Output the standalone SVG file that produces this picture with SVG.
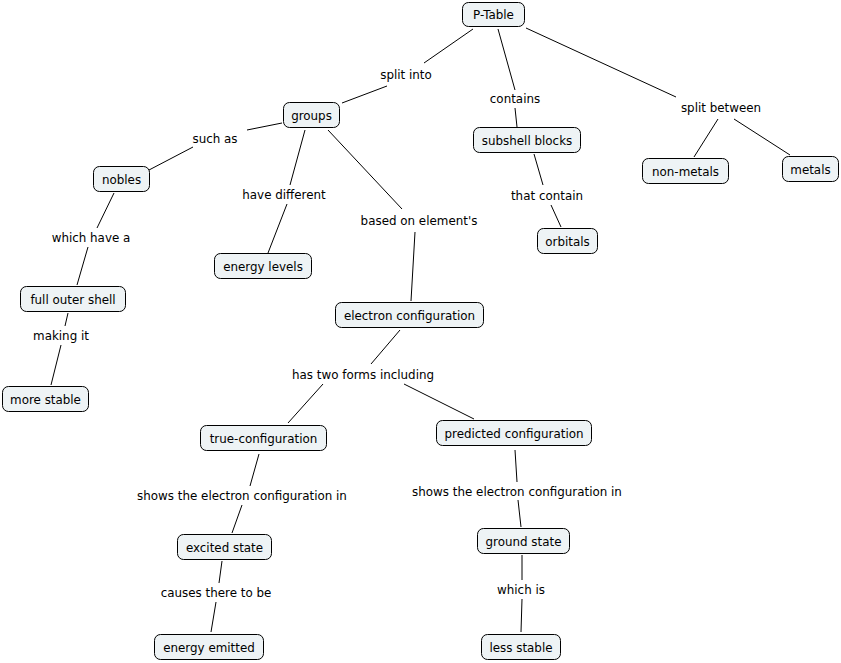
<svg xmlns="http://www.w3.org/2000/svg" width="841" height="663" viewBox="0 0 841 663">
<style>
.n rect{fill:#eef3f5;stroke:#000;stroke-width:1}
text{font-family:"DejaVu Sans",Verdana,sans-serif;font-size:11.9px;fill:#000;text-anchor:middle;dominant-baseline:central}
.c line{stroke:#000;stroke-width:1}
</style>
<rect width="841" height="663" fill="#fff"/>
<g class="c" id="connectors">
<line x1="473" y1="29" x2="424" y2="63"/>
<line x1="387" y1="86" x2="342" y2="103"/>
<line x1="498" y1="29" x2="515" y2="90"/>
<line x1="515" y1="108" x2="517" y2="127"/>
<line x1="526" y1="28" x2="676" y2="97"/>
<line x1="718" y1="119" x2="694" y2="157"/>
<line x1="734" y1="119" x2="790" y2="155"/>
<line x1="282" y1="123" x2="247" y2="130"/>
<line x1="193" y1="147" x2="149" y2="170"/>
<line x1="305" y1="130" x2="290" y2="185"/>
<line x1="287" y1="204" x2="268" y2="253"/>
<line x1="328" y1="130" x2="402" y2="209"/>
<line x1="415" y1="232" x2="411" y2="301"/>
<line x1="534" y1="154" x2="543" y2="185"/>
<line x1="551" y1="205" x2="561" y2="227"/>
<line x1="114" y1="193" x2="97" y2="228"/>
<line x1="88" y1="247" x2="77" y2="285"/>
<line x1="68" y1="313" x2="65" y2="326"/>
<line x1="61" y1="345" x2="51" y2="385"/>
<line x1="400" y1="330" x2="371" y2="364"/>
<line x1="323" y1="384" x2="288" y2="423"/>
<line x1="404" y1="384" x2="474" y2="419"/>
<line x1="259" y1="454" x2="250" y2="486"/>
<line x1="242" y1="505" x2="232" y2="533"/>
<line x1="515" y1="450" x2="517" y2="482"/>
<line x1="518" y1="500" x2="521" y2="527"/>
<line x1="222" y1="561" x2="219" y2="583"/>
<line x1="216" y1="602" x2="211" y2="632"/>
<line x1="522" y1="555" x2="522" y2="580"/>
<line x1="522" y1="599" x2="521" y2="632"/>
</g>
<g id="labels">
<text x="406" y="75">split into</text>
<text x="515" y="99">contains</text>
<text x="721" y="108">split between</text>
<text x="215" y="139">such as</text>
<text x="284" y="195">have different</text>
<text x="419" y="221">based on element's</text>
<text x="547" y="196">that contain</text>
<text x="91" y="238">which have a</text>
<text x="61" y="336">making it</text>
<text x="363" y="375">has two forms including</text>
<text x="242" y="496">shows the electron configuration in</text>
<text x="517" y="492">shows the electron configuration in</text>
<text x="216" y="593">causes there to be</text>
<text x="521" y="590">which is</text>
</g>
<g class="n" id="n-ptable"><rect x="462.5" y="2.5" width="62" height="24" rx="6"/><text x="493.5" y="15">P-Table</text></g>
<g class="n" id="n-groups"><rect x="283.5" y="102.5" width="56" height="25" rx="6"/><text x="311.5" y="115.5">groups</text></g>
<g class="n" id="n-subshell"><rect x="473.5" y="127.5" width="107" height="25" rx="6"/><text x="527" y="140.5">subshell blocks</text></g>
<g class="n" id="n-nonmetals"><rect x="642.5" y="158.5" width="86" height="25" rx="6"/><text x="685.5" y="171.5">non-metals</text></g>
<g class="n" id="n-metals"><rect x="782.5" y="156.5" width="56" height="25" rx="6"/><text x="810.5" y="169.5">metals</text></g>
<g class="n" id="n-nobles"><rect x="93.5" y="166.5" width="56" height="25" rx="6"/><text x="121.5" y="179.5">nobles</text></g>
<g class="n" id="n-orbitals"><rect x="537.5" y="228.5" width="60" height="25" rx="6"/><text x="567.5" y="241.5">orbitals</text></g>
<g class="n" id="n-energylevels"><rect x="214.5" y="253.5" width="97" height="25" rx="6"/><text x="263" y="266.5">energy levels</text></g>
<g class="n" id="n-fullshell"><rect x="20.5" y="286.5" width="105" height="25" rx="6"/><text x="73" y="299.5">full outer shell</text></g>
<g class="n" id="n-econfig"><rect x="335.5" y="302.5" width="148" height="25" rx="6"/><text x="409.5" y="315.5">electron configuration</text></g>
<g class="n" id="n-morestable"><rect x="2.5" y="386.5" width="86" height="25" rx="6"/><text x="45.5" y="399.5">more stable</text></g>
<g class="n" id="n-trueconfig"><rect x="200.5" y="425.5" width="126" height="25" rx="6"/><text x="263.5" y="438.5">true-configuration</text></g>
<g class="n" id="n-predconfig"><rect x="436.5" y="420.5" width="155" height="25" rx="6"/><text x="514" y="433.5">predicted configuration</text></g>
<g class="n" id="n-excited"><rect x="177.5" y="534.5" width="94" height="25" rx="6"/><text x="224.5" y="547.5">excited state</text></g>
<g class="n" id="n-ground"><rect x="477.5" y="528.5" width="92" height="25" rx="6"/><text x="523.5" y="541.5">ground state</text></g>
<g class="n" id="n-emitted"><rect x="154.5" y="634.5" width="109" height="25" rx="6"/><text x="209" y="647.5">energy emitted</text></g>
<g class="n" id="n-lessstable"><rect x="481.5" y="634.5" width="79" height="25" rx="6"/><text x="521" y="647.5">less stable</text></g>
</svg>
